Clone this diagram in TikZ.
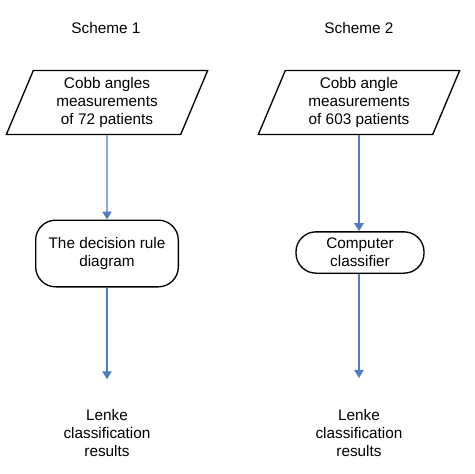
\documentclass[tikz,border=0pt]{standalone}
\usepackage{fontspec}
\setmainfont{Liberation Sans}
\usetikzlibrary{shapes.geometric,arrows.meta}
\definecolor{arrowblue}{RGB}{79,124,196}
\begin{document}
\begin{tikzpicture}[x=0.75pt,y=-0.75pt,
		font=\fontsize{11.5pt}{13.5pt}\selectfont,
		data/.style={draw,line width=1pt,trapezium,trapezium left angle=63,trapezium right angle=117,
			trapezium stretches body,minimum width=151pt,minimum height=48pt,align=center,inner sep=1pt},
		process/.style={draw,line width=1pt,rectangle,rounded corners=15pt,align=center},
		flow/.style={draw=arrowblue,line width=1.1pt,-{Triangle[width=7pt,length=6pt]}}]
		\useasboundingbox (0,0) rectangle (474,474);
		
		\node (title1) at (106,28) {Scheme 1};
		\node (title2) at (359,28) {Scheme 2};
		
		\node[data] (data1) at (107,102.5) {Cobb angles\\measurements\\of 72 patients};
		\node[data] (data2) at (359,102.5) {Cobb angle\\measurements\\of 603 patients};
		
		\node[process,minimum width=107pt,minimum height=50pt] (rule) at (107,253.5) {The decision rule\\diagram};
		\node[process,minimum width=96pt,minimum height=31pt] (classifier) at (360,252.5) {Computer\\classifier};
		
		\node (lenke1) at (107,433) [align=center] {Lenke\\classification\\results};
		\node (lenke2) at (359,433) [align=center] {Lenke\\classification\\results};
		
		\draw[flow] (data1.south) -- (rule.north);
		\draw[flow] (data2.south) -- (data2.south |- classifier.north);
		\draw[flow,shorten >=19pt] (rule.south) -- (lenke1.north);
		\draw[flow,shorten >=20pt] (classifier.south -| lenke2.north) -- (lenke2.north);
	\end{tikzpicture}
\end{document}
